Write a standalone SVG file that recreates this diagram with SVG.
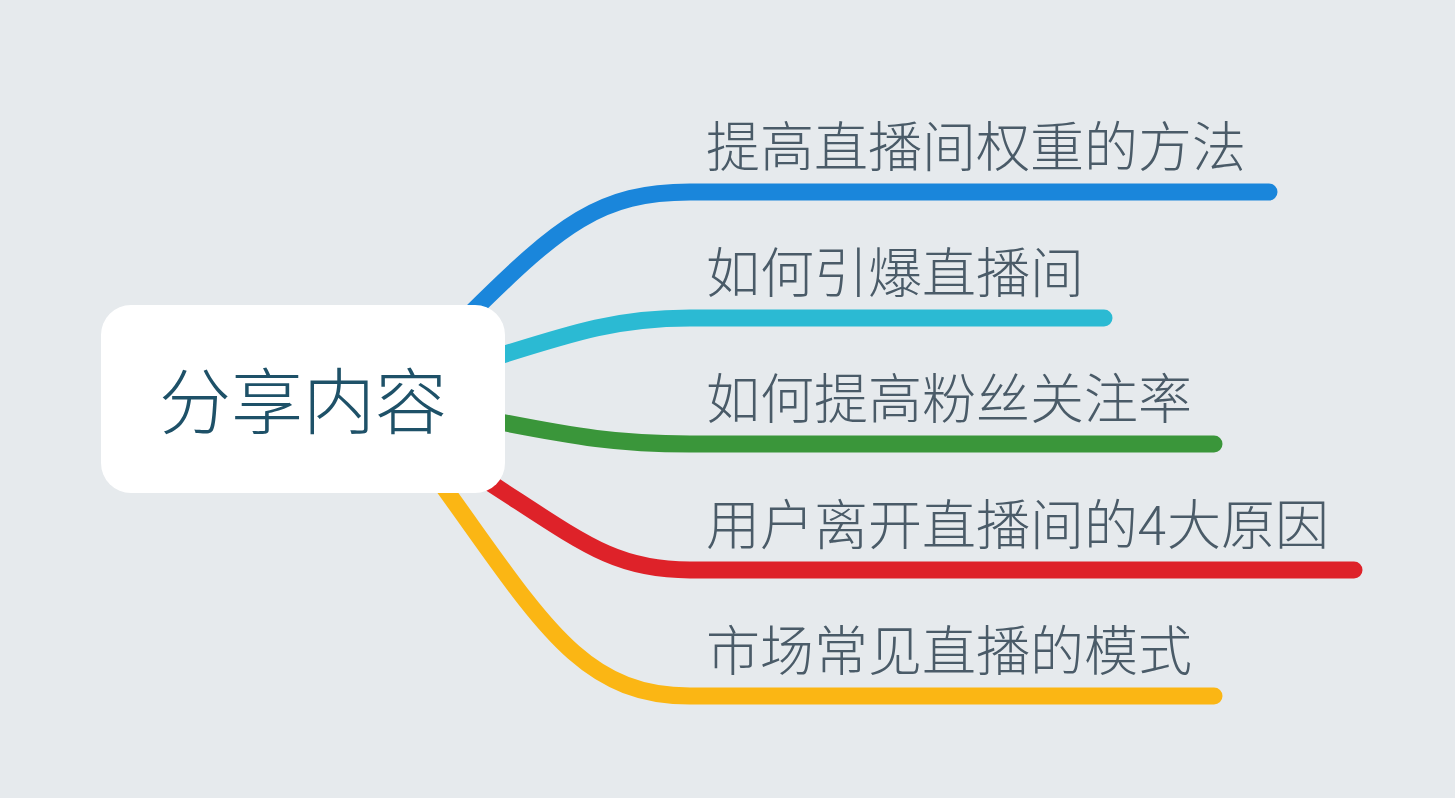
<svg xmlns="http://www.w3.org/2000/svg" width="1455" height="798" viewBox="0 0 1455 798">
<style>
.br{fill:none;stroke-width:17;stroke-linecap:round}
.lbl{font-family:"Noto Sans CJK SC","Noto Sans",sans-serif;font-size:54px;font-weight:300;fill:#4A5B68}
.ctext{font-family:"Noto Sans CJK SC","Noto Sans",sans-serif;font-size:72px;font-weight:300;fill:#1E5168}
</style>
<rect width="1455" height="798" fill="#E6EAED"/>
<g id="connectors">
<path class="br" stroke="#1A86DB" d="M470,314 C560,225 600,192 690,192 L1269,192"/>
<path class="br" stroke="#2BBAD3" d="M480,362 C580,330 620,318 690,318 L1104,318"/>
<path class="br" stroke="#3A963A" d="M480,418 C580,438 620,444 690,444 L1214,444"/>
<path class="br" stroke="#DE2229" d="M470,470 C580,540 610,570 690,570 L1354,570"/>
<path class="br" stroke="#FBB614" d="M440,482 C540,620 580,696 690,696 L1214,696"/>
</g>
<g id="node-center">
<rect x="101" y="305" width="404" height="188" rx="30" fill="#FFFFFF"/>
<text class="ctext" x="303" y="428" text-anchor="middle">分享内容</text>
</g>
<g id="node-1"><text class="lbl" x="706" y="167">提高直播间权重的方法</text></g>
<g id="node-2"><text class="lbl" x="706" y="293">如何引爆直播间</text></g>
<g id="node-3"><text class="lbl" x="706" y="419">如何提高粉丝关注率</text></g>
<g id="node-4"><text class="lbl" x="706" y="545">用户离开直播间的4大原因</text></g>
<g id="node-5"><text class="lbl" x="706" y="671">市场常见直播的模式</text></g>
</svg>
